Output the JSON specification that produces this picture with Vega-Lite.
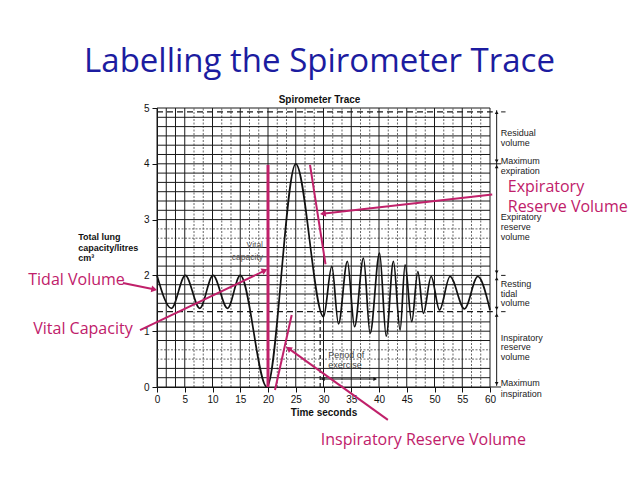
{
  "$schema": "https://vega.github.io/schema/vega-lite/v6.json",
  "width": 333,
  "height": 279,
  "autosize": {"type": "none"},
  "padding": {"left": 157, "top": 108, "right": 150, "bottom": 92},
  "background": "white",
  "title": {
    "text": "Labelling the Spirometer Trace",
    "subtitle": "Spirometer Trace",
    "font": "Open Sans",
    "fontSize": 33,
    "fontWeight": "normal",
    "color": "#1c1ca0",
    "subtitleFont": "Liberation Sans",
    "subtitleFontSize": 10,
    "subtitleFontWeight": "bold",
    "subtitleColor": "#111",
    "subtitlePadding": 16,
    "offset": -2,
    "anchor": "middle",
    "dx": -4
  },
  "config": {
    "view": {"stroke": null},
    "axis": {"labelFont": "Liberation Sans", "titleFont": "Liberation Sans"}
  },
  "datasets": {
    "trace": [
      {"t": 0, "v": 2.0}, {"t": 2.6, "v": 1.41}, {"t": 5.1, "v": 2.0}, {"t": 7.7, "v": 1.41},
      {"t": 10.1, "v": 2.0}, {"t": 12.7, "v": 1.41}, {"t": 15.0, "v": 2.0}, {"t": 19.8, "v": 0.0},
      {"t": 25.0, "v": 4.0}, {"t": 30.0, "v": 1.26}, {"t": 31.5, "v": 2.16}, {"t": 32.7, "v": 1.13},
      {"t": 34.3, "v": 2.25}, {"t": 35.6, "v": 1.08}, {"t": 37.2, "v": 2.31}, {"t": 38.4, "v": 0.96},
      {"t": 40.1, "v": 2.40}, {"t": 41.3, "v": 0.91}, {"t": 42.6, "v": 2.25}, {"t": 43.8, "v": 1.02},
      {"t": 44.7, "v": 2.19}, {"t": 45.9, "v": 1.17}, {"t": 47.0, "v": 2.07}, {"t": 48.0, "v": 1.32},
      {"t": 49.4, "v": 1.98}, {"t": 50.9, "v": 1.38}, {"t": 52.8, "v": 1.98}, {"t": 55.4, "v": 1.40},
      {"t": 57.8, "v": 1.98}, {"t": 60.0, "v": 1.38}
    ],
    "vgridSolid": [
      {"t": 0, "v": 0, "v2": 5}, {"t": 1.667, "v": 0, "v2": 5}, {"t": 3.333, "v": 0, "v2": 5},
      {"t": 5, "v": 0, "v2": 5}, {"t": 10, "v": 0, "v2": 5}, {"t": 15, "v": 0, "v2": 5},
      {"t": 20, "v": 0, "v2": 5}, {"t": 25, "v": 0, "v2": 5}, {"t": 30, "v": 0, "v2": 5},
      {"t": 35, "v": 0, "v2": 5}, {"t": 40, "v": 0, "v2": 5}, {"t": 45, "v": 0, "v2": 5},
      {"t": 50, "v": 0, "v2": 5}, {"t": 55, "v": 0, "v2": 5}, {"t": 60, "v": 0, "v2": 5}
    ],
    "vgridDotted": [
      {"t": 6.667, "v": 0, "v2": 5}, {"t": 8.333, "v": 0, "v2": 5}, {"t": 11.667, "v": 0, "v2": 5},
      {"t": 13.333, "v": 0, "v2": 5}, {"t": 16.667, "v": 0, "v2": 5}, {"t": 18.333, "v": 0, "v2": 5},
      {"t": 21.667, "v": 0, "v2": 5}, {"t": 23.333, "v": 0, "v2": 5}, {"t": 26.667, "v": 0, "v2": 5},
      {"t": 28.333, "v": 0, "v2": 5}, {"t": 31.667, "v": 0, "v2": 5}, {"t": 33.333, "v": 0, "v2": 5},
      {"t": 36.667, "v": 0, "v2": 5}, {"t": 38.333, "v": 0, "v2": 5}, {"t": 41.667, "v": 0, "v2": 5},
      {"t": 43.333, "v": 0, "v2": 5}, {"t": 46.667, "v": 0, "v2": 5}, {"t": 48.333, "v": 0, "v2": 5},
      {"t": 51.667, "v": 0, "v2": 5}, {"t": 53.333, "v": 0, "v2": 5}, {"t": 56.667, "v": 0, "v2": 5},
      {"t": 58.333, "v": 0, "v2": 5}
    ],
    "hgridSolid": [
      {"v": 0, "t": 0, "t2": 60}, {"v": 0.1667, "t": 0, "t2": 60}, {"v": 0.3333, "t": 0, "t2": 60},
      {"v": 0.8333, "t": 0, "t2": 60}, {"v": 1.0, "t": 0, "t2": 60}, {"v": 1.1667, "t": 0, "t2": 60},
      {"v": 1.5, "t": 0, "t2": 60}, {"v": 1.6667, "t": 0, "t2": 60},
      {"v": 1.8333, "t": 0, "t2": 60}, {"v": 2.0, "t": 0, "t2": 60}, {"v": 2.1667, "t": 0, "t2": 60},
      {"v": 2.3333, "t": 0, "t2": 60}, {"v": 2.5, "t": 0, "t2": 60}, {"v": 3.0, "t": 0, "t2": 60},
      {"v": 3.1667, "t": 0, "t2": 60}, {"v": 3.3333, "t": 0, "t2": 60}, {"v": 3.5, "t": 0, "t2": 60},
      {"v": 3.6667, "t": 0, "t2": 60}, {"v": 3.8333, "t": 0, "t2": 60}, {"v": 4.0, "t": 0, "t2": 60},
      {"v": 4.1667, "t": 0, "t2": 60}, {"v": 4.3333, "t": 0, "t2": 60}, {"v": 4.5, "t": 0, "t2": 60},
      {"v": 4.6667, "t": 0, "t2": 60}, {"v": 4.8333, "t": 0, "t2": 60}, {"v": 5.0, "t": 0, "t2": 60}
    ],
    "hgridDotted": [
      {"v": 0.5, "t": 0, "t2": 60}, {"v": 0.6667, "t": 0, "t2": 60},
      {"v": 2.6667, "t": 0, "t2": 60}, {"v": 2.8333, "t": 0, "t2": 60}
    ],
    "dashedH": [{"v": 4.93, "t": 0, "t2": 60.5}, {"v": 1.35, "t": 0, "t2": 60.5}],
    "exercise": [{"t": 29.4, "v": 0, "t2": 29.4, "v2": 1.26}],
    "blackSegs": [
      {"t": 29.4, "v": 0.143, "t2": 39.5, "v2": 0.143},
      {"t": 61.2, "v": 0.02, "t2": 61.2, "v2": 4.96},
      {"t": 62.0, "v": 4.93, "t2": 62.8, "v2": 4.93},
      {"t": 62.0, "v": 2.0, "t2": 62.8, "v2": 2.0},
      {"t": 62.0, "v": 1.35, "t2": 62.8, "v2": 1.35},
      {"t": 60.0, "v": 4.0, "t2": 62.0, "v2": 4.0},
      {"t": 60.0, "v": 0.0, "t2": 62.0, "v2": 0.0}
    ],
    "headsUp": [{"t": 61.2, "v": 4.92}, {"t": 61.2, "v": 3.95}, {"t": 61.2, "v": 1.94}, {"t": 61.2, "v": 1.29}],
    "headsDown": [{"t": 61.2, "v": 4.05}, {"t": 61.2, "v": 2.06}, {"t": 61.2, "v": 1.41}, {"t": 61.2, "v": 0.06}],
    "headsRight": [{"t": 39.3, "v": 0.143}],
    "headsLeft": [{"t": 29.9, "v": 0.143}],
    "pinkVC": [{"t": 20, "v": 0, "t2": 20, "v2": 3.98}],
    "pinkSegs": [
      {"t": 27.57, "v": 3.98, "t2": 30.36, "v2": 2.2},
      {"t": 60.4, "v": 3.45, "t2": 30.2, "v2": 3.11},
      {"t": -6.13, "v": 1.864, "t2": -0.6, "v2": 1.75},
      {"t": -3.06, "v": 1.02, "t2": 19.3, "v2": 2.08},
      {"t": 24.27, "v": 1.29, "t2": 21.26, "v2": -0.054},
      {"t": 41.6, "v": -0.59, "t2": 24.0, "v2": 0.67}
    ],
    "headERV": [{"t": 29.9, "v": 3.105}],
    "headTidal": [{"t": -0.5, "v": 1.748}],
    "headVC": [{"t": 19.4, "v": 2.09}],
    "headIRV": [{"t": 23.7, "v": 0.69}],
    "rightLabels": [
      {"t": 61.93, "v": 4.557, "label": "Residual"},
      {"t": 61.93, "v": 4.367, "label": "volume"},
      {"t": 61.93, "v": 4.05, "label": "Maximum"},
      {"t": 61.93, "v": 3.876, "label": "expiration"},
      {"t": 61.93, "v": 3.052, "label": "Expiratory"},
      {"t": 61.93, "v": 2.873, "label": "reserve"},
      {"t": 61.93, "v": 2.694, "label": "volume"},
      {"t": 61.93, "v": 1.846, "label": "Resting"},
      {"t": 61.93, "v": 1.667, "label": "tidal"},
      {"t": 61.93, "v": 1.5, "label": "volume"},
      {"t": 61.93, "v": 0.873, "label": "Inspiratory"},
      {"t": 61.93, "v": 0.711, "label": "reserve"},
      {"t": 61.93, "v": 0.543, "label": "volume"},
      {"t": 61.93, "v": 0.066, "label": "Maximum"},
      {"t": 61.93, "v": -0.125, "label": "inspiration"}
    ],
    "yTitle": [
      {"t": -14.2, "v": 2.69, "label": "Total lung"},
      {"t": -14.2, "v": 2.5, "label": "capacity/litres"},
      {"t": -14.2, "v": 2.31, "label": "cm³"}
    ],
    "vitalNote": [
      {"t": 19.1, "v": 2.545, "label": "Vital"},
      {"t": 19.1, "v": 2.335, "label": "capacity"}
    ],
    "exerciseNote": [
      {"t": 30.87, "v": 0.573, "label": "Period of"},
      {"t": 30.87, "v": 0.394, "label": "exercise"}
    ],
    "pinkLabels": [
      {"t": 63.2, "v": 3.584, "label": "Expiratory"},
      {"t": 63.2, "v": 3.226, "label": "Reserve Volume"},
      {"t": -23.2, "v": 1.918, "label": "Tidal Volume"},
      {"t": -22.3, "v": 1.045, "label": "Vital Capacity"},
      {"t": 29.5, "v": -0.95, "label": "Inspiratory Reserve Volume"}
    ]
  },
  "encoding": {
    "x": {
      "field": "t", "type": "quantitative",
      "scale": {"domain": [0, 60], "nice": false, "zero": false},
      "axis": {
        "values": [0, 5, 10, 15, 20, 25, 30, 35, 40, 45, 50, 55, 60],
        "title": "Time seconds", "titleFontWeight": "bold", "titleFontSize": 10, "titleColor": "#111",
        "labelFontSize": 10, "labelColor": "#111", "tickColor": "#111", "domainColor": "#111",
        "tickSize": 5, "labelPadding": 2, "titlePadding": 3, "grid": false, "labelFlush": false
      }
    },
    "y": {
      "field": "v", "type": "quantitative",
      "scale": {"domain": [0, 5], "nice": false, "zero": false},
      "axis": {
        "values": [0, 1, 2, 3, 4, 5], "title": null, "labelFontSize": 10, "labelColor": "#111",
        "tickColor": "#111", "domainColor": "#111", "tickSize": 5, "labelPadding": 3, "grid": false
      }
    }
  },
  "layer": [
    {"data": {"name": "vgridDotted"}, "mark": {"type": "rule", "color": "#666", "strokeWidth": 1, "strokeDash": [2, 1.5]},
     "encoding": {"y2": {"field": "v2"}}},
    {"data": {"name": "hgridDotted"}, "mark": {"type": "rule", "color": "#666", "strokeWidth": 1, "strokeDash": [2, 1.5]},
     "encoding": {"x2": {"field": "t2"}}},
    {"data": {"name": "vgridSolid"}, "mark": {"type": "rule", "color": "#1a1a1a", "strokeWidth": 1},
     "encoding": {"y2": {"field": "v2"}}},
    {"data": {"name": "hgridSolid"}, "mark": {"type": "rule", "color": "#1a1a1a", "strokeWidth": 1},
     "encoding": {"x2": {"field": "t2"}}},
    {"data": {"name": "dashedH"}, "mark": {"type": "rule", "color": "#1a1a1a", "strokeWidth": 1.2, "strokeDash": [6, 4]},
     "encoding": {"x2": {"field": "t2"}}},
    {"data": {"name": "exercise"}, "mark": {"type": "rule", "color": "#1a1a1a", "strokeWidth": 1.2, "strokeDash": [4, 3]},
     "encoding": {"x2": {"field": "t2"}, "y2": {"field": "v2"}}},
    {"data": {"name": "blackSegs"}, "mark": {"type": "rule", "color": "#1a1a1a", "strokeWidth": 1},
     "encoding": {"x2": {"field": "t2"}, "y2": {"field": "v2"}}},
    {"data": {"name": "headsUp"}, "mark": {"type": "point", "shape": "triangle-up", "filled": true, "size": 14, "color": "#111", "opacity": 1}},
    {"data": {"name": "headsDown"}, "mark": {"type": "point", "shape": "triangle-down", "filled": true, "size": 14, "color": "#111", "opacity": 1}},
    {"data": {"name": "headsRight"}, "mark": {"type": "point", "shape": "triangle-right", "filled": true, "size": 16, "color": "#111", "opacity": 1}},
    {"data": {"name": "headsLeft"}, "mark": {"type": "point", "shape": "triangle-left", "filled": true, "size": 16, "color": "#111", "opacity": 1}},
    {"data": {"name": "trace"}, "mark": {"type": "line", "color": "#111", "strokeWidth": 1.7, "interpolate": "monotone"}},
    {"data": {"name": "pinkVC"}, "mark": {"type": "rule", "color": "#c0206a", "strokeWidth": 3},
     "encoding": {"x2": {"field": "t2"}, "y2": {"field": "v2"}}},
    {"data": {"name": "pinkSegs"}, "mark": {"type": "rule", "color": "#c0206a", "strokeWidth": 2},
     "encoding": {"x2": {"field": "t2"}, "y2": {"field": "v2"}}},
    {"data": {"name": "headERV"}, "mark": {"type": "point", "shape": "triangle-up", "filled": true, "size": 45, "color": "#c0206a", "opacity": 1, "angle": 263}},
    {"data": {"name": "headTidal"}, "mark": {"type": "point", "shape": "triangle-up", "filled": true, "size": 45, "color": "#c0206a", "opacity": 1, "angle": 102}},
    {"data": {"name": "headVC"}, "mark": {"type": "point", "shape": "triangle-up", "filled": true, "size": 45, "color": "#c0206a", "opacity": 1, "angle": 65}},
    {"data": {"name": "headIRV"}, "mark": {"type": "point", "shape": "triangle-up", "filled": true, "size": 45, "color": "#c0206a", "opacity": 1, "angle": 306}},
    {"data": {"name": "rightLabels"}, "mark": {"type": "text", "align": "left", "baseline": "middle", "font": "Liberation Sans", "fontSize": 9, "color": "#222"},
     "encoding": {"text": {"field": "label"}}},
    {"data": {"name": "yTitle"}, "mark": {"type": "text", "align": "left", "baseline": "middle", "font": "Liberation Sans", "fontSize": 9, "fontWeight": "bold", "color": "#111"},
     "encoding": {"text": {"field": "label"}}},
    {"data": {"name": "vitalNote"}, "mark": {"type": "text", "align": "right", "baseline": "middle", "font": "Liberation Sans", "fontSize": 8.5, "color": "#555"},
     "encoding": {"text": {"field": "label"}}},
    {"data": {"name": "exerciseNote"}, "mark": {"type": "text", "align": "left", "baseline": "middle", "font": "Liberation Sans", "fontSize": 9, "color": "#444"},
     "encoding": {"text": {"field": "label"}}},
    {"data": {"name": "pinkLabels"}, "mark": {"type": "text", "align": "left", "baseline": "middle", "font": "Open Sans", "fontSize": 16, "color": "#c0206a"},
     "encoding": {"text": {"field": "label"}}}
  ]
}
